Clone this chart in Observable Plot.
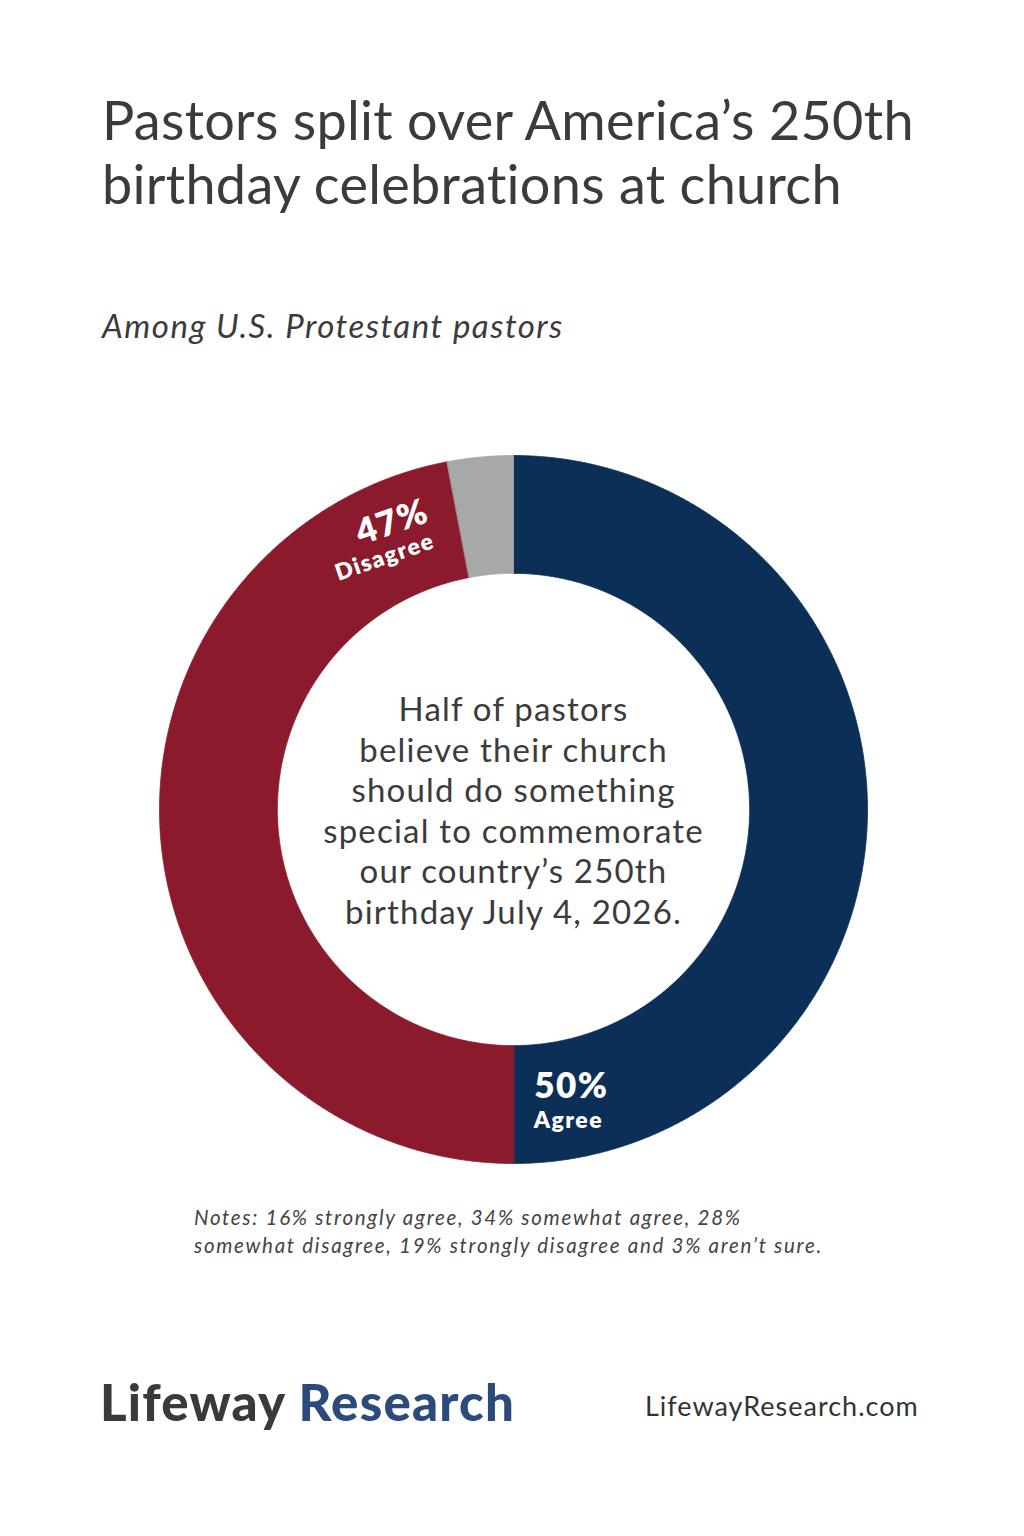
<!DOCTYPE html>
<html>
<head>
<meta charset="utf-8">
<script src="https://cdn.jsdelivr.net/npm/d3@7"></script>
<script src="https://cdn.jsdelivr.net/npm/@observablehq/plot@0.6"></script>
<style>
  html, body { margin: 0; padding: 0; background: #ffffff; }
  body { width: 1024px; height: 1536px; position: relative; overflow: hidden; font-family: Lato, "Noto Sans", sans-serif; color: #3b3b3b; }
  .abs { position: absolute; white-space: nowrap; }
  #title { left: 102px; top: 88px; font-size: 54px; line-height: 64px; font-weight: 400; letter-spacing: 0.3px; }
  #subtitle { left: 102px; top: 305px; font-size: 33px; line-height: 40px; font-style: italic; letter-spacing: 1.5px; }
  #chart { left: 0; top: 420px; }
  #chart g[font-size="33"] { letter-spacing: 1.2px; }
  #chart g[font-size="35"] { letter-spacing: 1.5px; }
  #chart g[font-size="23"] { letter-spacing: 1.5px; }
  #notes { left: 194px; top: 1203px; font-size: 20.5px; line-height: 28px; font-style: italic; color: #444; letter-spacing: 1.7px; }
  #brand { left: 100px; top: 1372px; font-size: 51px; line-height: 60px; font-weight: 900; letter-spacing: 1.2px; }
  #brand .b1 { color: #3a3a3a; }
  #brand .b2 { color: #2c4a7c; }
  #site { left: 645px; top: 1388px; font-size: 27px; line-height: 36px; color: #333; letter-spacing: 1px; }
</style>
</head>
<body>
<div id="title" class="abs"></div>
<div id="subtitle" class="abs"></div>
<div id="chart" class="abs"></div>
<div id="notes" class="abs"></div>
<div id="brand" class="abs"><span class="b1">Lifeway</span> <span class="b2">Research</span></div>
<div id="site" class="abs">LifewayResearch.com</div>
<script>
// Survey result: should churches mark the 250th birthday?
const categories = ["Agree", "Disagree", "Not sure"];
const shares = [50, 47, 3];
const sliceColors = ["#0b2f57", "#8b1a2c", "#a7a8aa"];

const titleLines = ["Pastors split over America\u2019s 250th", "birthday celebrations at church"];
const subtitleText = "Among U.S. Protestant pastors";
const centerLines = [
  "Half of pastors",
  "believe their church",
  "should do something",
  "special to commemorate",
  "our country\u2019s 250th",
  "birthday July 4, 2026."
];
const noteLines = [
  "Notes: 16% strongly agree, 34% somewhat agree, 28%",
  "somewhat disagree, 19% strongly disagree and 3% aren\u2019t sure."
];
// slices that carry an on-ring label
const labelled = ["Agree", "Disagree"];

document.getElementById("title").innerHTML = titleLines.join("<br>");
document.getElementById("subtitle").textContent = subtitleText;
document.getElementById("notes").innerHTML = noteLines.join("<br>");

// ring geometry in units of the outer radius
const R_OUT = 1, R_IN = 0.667;
const PX = 354;          // pixels per unit
const W = 1024, H = 780; // svg size
const CX = 513, CY = 389; // ring centre inside the svg

const slices = categories.map((category, i) => ({category, share: shares[i]}));
const arcs = d3.pie().sort(null).value(d => d.share)(slices);

// polygon outline of each ring segment (angles clockwise from 12 o'clock)
const outline = arcs.flatMap(a => {
  const n = Math.max(8, Math.ceil((a.endAngle - a.startAngle) / 0.004));
  const pts = [];
  for (let k = 0; k <= n; k++) {
    const t = a.startAngle + (a.endAngle - a.startAngle) * k / n;
    pts.push({category: a.data.category, x: R_OUT * Math.sin(t), y: R_OUT * Math.cos(t)});
  }
  for (let k = n; k >= 0; k--) {
    const t = a.startAngle + (a.endAngle - a.startAngle) * k / n;
    pts.push({category: a.data.category, x: R_IN * Math.sin(t), y: R_IN * Math.cos(t)});
  }
  return pts;
});

// where each label sits: degrees back from the slice's end angle, and radius
const labelLayout = {
  Agree:    {rotate: 0,   value: {back: 11.8, r: 0.80}, name: {back: 10.0, r: 0.893}},
  Disagree: {rotate: -19, value: {back: 12.1, r: 0.88}, name: {back: 16.2, r: 0.80}}
};
const rad = Math.PI / 180;
const labelRows = arcs.filter(a => labelled.includes(a.data.category)).flatMap(a => {
  const L = labelLayout[a.data.category];
  const at = p => {
    const t = a.endAngle - p.back * rad;
    return {x: p.r * Math.sin(t), y: p.r * Math.cos(t)};
  };
  return [
    {kind: "value", text: `${a.data.share}%`, rotate: L.rotate, ...at(L.value)},
    {kind: "name", text: a.data.category, rotate: L.rotate, ...at(L.name)}
  ];
});

const chart = Plot.plot({
  width: W,
  height: H,
  margin: 0,
  x: {domain: [-CX / PX, (W - CX) / PX], axis: null},
  y: {domain: [-(H - CY) / PX, CY / PX], axis: null},
  color: {domain: categories, range: sliceColors},
  style: {background: "transparent", overflow: "visible"},
  marks: [
    Plot.line(outline, {
      x: "x", y: "y", z: "category",
      fill: "category", stroke: "category", strokeWidth: 0.8,
      curve: "linear-closed"
    }),
    Plot.text(labelRows.filter(d => d.kind === "value"), {
      x: "x", y: "y", text: "text", rotate: "rotate",
      fill: "white", fontSize: 35, fontWeight: 800,
      fontFamily: "Lato, sans-serif", textAnchor: "middle", lineAnchor: "middle"
    }),
    Plot.text(labelRows.filter(d => d.kind === "name"), {
      x: "x", y: "y", text: "text", rotate: "rotate",
      fill: "white", fontSize: 23, fontWeight: 800,
      fontFamily: "Lato, sans-serif", textAnchor: "middle", lineAnchor: "middle"
    }),
    Plot.text([centerLines.join("\n")], {
      x: 0, y: 0, text: d => d,
      fill: "#3b3b3b", fontSize: 33, lineHeight: 1.23,
      fontFamily: "Lato, sans-serif", textAnchor: "middle", lineAnchor: "middle"
    })
  ]
});
document.getElementById("chart").appendChild(chart);
</script>
</body>
</html>
